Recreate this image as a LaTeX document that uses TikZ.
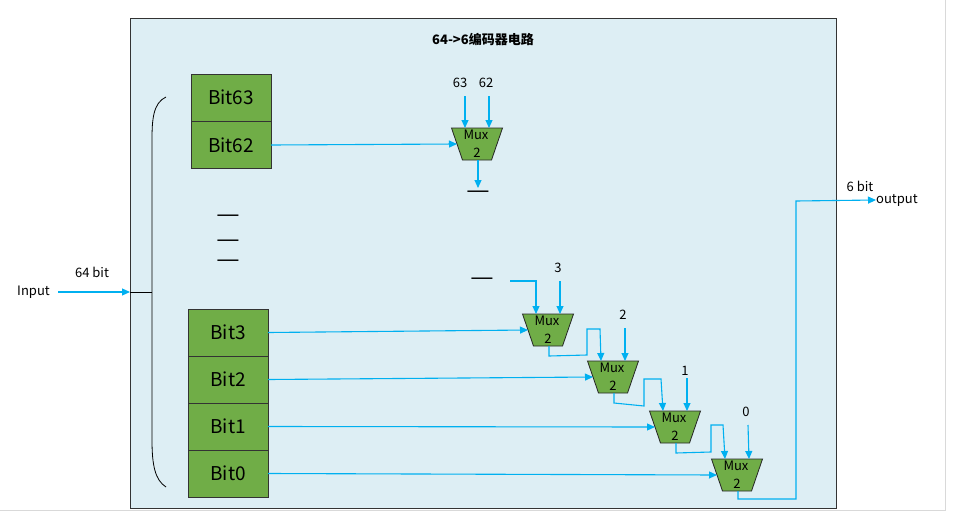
\documentclass[tikz,border=0pt]{standalone}
\usepackage{fontspec}
\setmainfont{Noto Sans CJK SC}
\usetikzlibrary{arrows.meta}
\definecolor{bg}{HTML}{DDEEF4}
\definecolor{grn}{HTML}{70AD47}
\definecolor{blu}{HTML}{00B0F0}
\begin{document}
\begin{tikzpicture}[x=1pt,y=-1pt,
  bit/.style={draw=black!80,fill=grn,minimum width=80pt,minimum height=47pt,font=\fontsize{19}{19}\selectfont,inner sep=0pt},
  wire/.style={blu,line width=1.1pt},
  arr/.style={wire,-{Triangle[width=7pt,length=8pt]}},
  lbl/.style={font=\fontsize{13}{13}\selectfont,inner sep=0pt},
  dots/.style={font=\fontsize{13}{13}\selectfont\bfseries,inner sep=0pt}]
\useasboundingbox (0,0) rectangle (958,530);
\draw[black!15] (945,0) -- (945,510) -- (0,510);
\draw[black!80,fill=bg] (130,18) rectangle (836,508);
\node[font=\fontsize{13}{13}\selectfont\bfseries] (title) at (483,40) {64->6编码器电路};
% bits
\node[bit] (b63) at (231,97.5) {Bit63};
\node[bit] (b62) at (231,145) {Bit62};
\node[bit] (b3) at (228,332.5) {Bit3};
\node[bit] (b2) at (228,379.5) {Bit2};
\node[bit] (b1) at (228,426.5) {Bit1};
\node[bit] (b0) at (228,473.5) {Bit0};
\node[dots] (d1) at (228,217) {------};
\node[dots] (d2) at (228,242) {------};
\node[dots] (d3) at (228,262) {------};
% brace
\draw[black,line width=0.8pt] (166,97) .. controls (153,103) and (152,120) .. (152,140) -- (152,440) .. controls (152,465) and (155,480) .. (166,487);
\coordinate (bt) at (152,292);
\draw[black,line width=0.8pt] (bt) -- (130,292);
\node[lbl,anchor=east] (inp) at (50,292) {Input};
\node[lbl] (n64) at (92,272) {64 bit};
\coordinate (ia) at (58,292);
\coordinate (ib) at (130,292);
\draw[arr] (ia) -- (ib);
% mux shape
\newcommand{\mymux}[3]{%
  \draw[black!85,fill=grn,line width=0.8pt] (#2-25.5,#3) -- (#2+25.5,#3) -- (#2+14.5,#3+32) -- (#2-14.5,#3+32) -- cycle;
  \node[lbl,inner sep=0pt] (#1) at (#2,#3+16) {};
  \node[lbl] (#1t) at (#2-1,#3+7) {Mux};
  \node[lbl] (#1b) at (#2,#3+25) {2};
  \coordinate (#1L) at (#2-20,#3+16);
  \coordinate (#1o) at (#2+1,#3+32);
  \coordinate (#1a) at (#2-12,#3);
  \coordinate (#1c) at (#2+12,#3);
}
\mymux{m62}{477}{128}
\mymux{m3}{548}{314}
\mymux{m2}{613}{361}
\mymux{m1}{675}{411}
\mymux{m0}{737}{459}
% top mux
\node[lbl] (l63) at (460,83) {63};
\node[lbl] (l62) at (486,83) {62};
\draw[arr] (465,96) -- (m62a);
\draw[arr] (489,96) -- (m62c);
\draw[arr] (b62.east) -- (m62L);
\draw[arr] (m62o) -- (478,188);
\node[dots] (d4) at (478,193) {------};
% chain
\node[dots] (d5) at (482,280) {------};
\draw[arr] (510,281) -| (m3a);
\node[lbl] (l3) at (558,268) {3};
\draw[arr] (560,281) -- (m3c);
\node[lbl] (l2) at (623,315) {2};
\draw[arr] (625,328) -- (m2c);
\node[lbl] (l1) at (685,371) {1};
\draw[arr] (687,378) -- (m1c);
\node[lbl] (l0) at (746,412) {0};
\draw[arr] (748,425) -- (m0c);
\draw[arr] (m3o) -- ++(0,10) -- (587,355) -- (587,329) -- (600,329) -- (m2a);
\draw[arr] (m2o) -- ++(0,10) -- (644,406) -- (644,379) -- (661,379) -- (m1a);
\draw[arr] (m1o) -- ++(0,10) -- (711,452) -- (711,425) -- (723,425) -- (m0a);
\draw[arr] (b3.east) -- (m3L);
\draw[arr] (b2.east) -- (m2L);
\draw[arr] (b1.east) -- (m1L);
\draw[arr] (b0.east) -- (m0L);
\node[lbl,anchor=west] (out) at (876,200) {output};
\node[lbl] (l6) at (860,186) {6 bit};
\draw[arr] (m0o) -- (738,499) -- (796,499) -- (796,201) -- (out.west);
\end{tikzpicture}
\end{document}
